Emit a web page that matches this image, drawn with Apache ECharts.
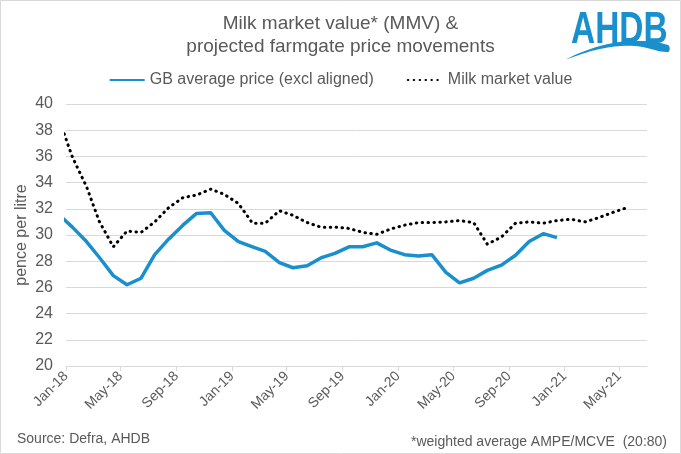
<!DOCTYPE html>
<html>
<head>
<meta charset="utf-8">
<script src="https://cdn.jsdelivr.net/npm/echarts@6/dist/echarts.min.js"></script>
<style>
html,body{margin:0;padding:0;background:#fff;}
#chart{width:681px;height:454px;}
</style>
</head>
<body>
<div id="chart"></div>
<script>
// Monthly observations (plotted mid-month), Dec-17 .. May-21
var months = ['2017-12','2018-01','2018-02','2018-03','2018-04','2018-05','2018-06','2018-07','2018-08','2018-09','2018-10','2018-11','2018-12',
'2019-01','2019-02','2019-03','2019-04','2019-05','2019-06','2019-07','2019-08','2019-09','2019-10','2019-11','2019-12',
'2020-01','2020-02','2020-03','2020-04','2020-05','2020-06','2020-07','2020-08','2020-09','2020-10','2020-11','2020-12',
'2021-01','2021-02','2021-03','2021-04','2021-05'];
var gbPrice = [31.6,30.6,29.5,28.3,26.9,26.2,26.7,28.5,29.7,30.75,31.65,31.7,30.35,
29.5,29.1,28.75,27.9,27.5,27.65,28.25,28.6,29.1,29.1,29.4,28.85,
28.5,28.4,28.5,27.15,26.35,26.7,27.3,27.7,28.45,29.5,30.1,29.8];
var mmv = [39.0,35.95,33.7,31.05,29.1,30.3,30.2,31.0,32.1,32.85,33.05,33.5,33.1,
32.4,30.9,30.9,31.85,31.5,30.95,30.6,30.6,30.5,30.2,30.05,30.45,
30.75,30.95,30.95,31.0,31.1,30.95,29.3,29.85,30.9,31.0,30.9,31.1,
31.2,31.0,31.3,31.7,32.05];
var tickLabels = ['Jan-18','May-18','Sep-18','Jan-19','May-19','Sep-19','Jan-20','May-20','Sep-20','Jan-21','May-21'];
var yTicks = [20,22,24,26,28,30,32,34,36,38,40];

var monNames = {Jan:0,Feb:1,Mar:2,Apr:3,May:4,Jun:5,Jul:6,Aug:7,Sep:8,Oct:9,Nov:10,Dec:11};
function labelToTime(l){var p=l.split('-');return Date.UTC(2000+parseInt(p[1],10),monNames[p[0]],1);}
function monthMid(m){var p=m.split('-');return Date.UTC(parseInt(p[0],10),parseInt(p[1],10)-1,15);}
var tickTimes = tickLabels.map(labelToTime);
var labelMap = {};
tickTimes.forEach(function(t,i){labelMap[t]=tickLabels[i];});

var gbData = gbPrice.map(function(v,i){return [monthMid(months[i]),v];});
var mmvData = mmv.map(function(v,i){return [monthMid(months[i]),v];});

var FONT = 'Liberation Sans, Arial, sans-serif';
var GREY = '#595959';
var BLUE = '#1a8fce';
var chart = echarts.init(document.getElementById('chart'),null,{renderer:'canvas'});
chart.setOption({
  backgroundColor:'#ffffff',
  animation:false,
  textStyle:{fontFamily:FONT},
  title:{
    text:'Milk market value* (MMV) &\nprojected farmgate price movements',
    left:'center', top:7,
    textStyle:{fontSize:19,fontWeight:'normal',color:GREY,fontFamily:FONT,lineHeight:23}
  },
  legend:{
    top:67, left:'center', itemGap:33, itemWidth:35, itemHeight:10,
    itemStyle:{opacity:0},
    textStyle:{fontSize:16,color:GREY,fontFamily:FONT},
    data:['GB average price (excl aligned)','Milk market value']
  },
  grid:{left:66,right:34,top:104,bottom:88},
  xAxis:{
    type:'value',
    min:labelToTime('Jan-18'),
    max:Date.UTC(2021,6,1),
    axisLine:{show:true,lineStyle:{color:'#d9d9d9',width:1}},
    axisTick:{show:true,length:5,lineStyle:{color:'#d9d9d9'},customValues:tickTimes},
    axisLabel:{
      customValues:tickTimes,
      rotate:45, fontSize:14, color:GREY, fontFamily:FONT, margin:8,
      formatter:function(v){return labelMap[v]||'';}
    },
    splitLine:{show:false}
  },
  yAxis:{
    type:'value', min:yTicks[0], max:yTicks[yTicks.length-1], interval:2,
    axisLine:{show:false}, axisTick:{show:false},
    axisLabel:{fontSize:16,color:GREY,fontFamily:FONT,margin:13},
    splitLine:{lineStyle:{color:'#d9d9d9',width:1}}
  },
  series:[
    {
      name:'GB average price (excl aligned)', type:'line', data:gbData,
      showSymbol:false, symbol:'none', smooth:false, clip:true,
      itemStyle:{color:BLUE},
      lineStyle:{color:BLUE,width:3.5,join:'round'}
    },
    {
      name:'Milk market value', type:'line', data:mmvData,
      showSymbol:false, symbol:'none', smooth:false, clip:true,
      itemStyle:{color:'#000000'},
      lineStyle:{color:'#000000',width:3,type:[0.5,5.4],cap:'round',join:'round'}
    }
  ],
  graphic:[
    {type:'rect',silent:true,shape:{x:0.5,y:0.5,width:680,height:453},style:{fill:'none',stroke:'#d9d9d9',lineWidth:1}},
    {type:'text',x:22,y:235,rotation:Math.PI/2,style:{text:'pence per litre',font:'16px '+FONT,fill:GREY,align:'center',verticalAlign:'middle'}},
    {type:'text',x:17,y:432,style:{text:'Source: Defra, AHDB',font:'14px '+FONT,fill:GREY}},
    {type:'text',x:667,y:435,style:{text:'*weighted average AMPE/MCVE  (20:80)',font:'14px '+FONT,fill:GREY,align:'right'}},
    {type:'text',x:571,y:31,scaleX:0.76,style:{text:'AHDB',font:'bold 44px '+FONT,fill:BLUE,verticalAlign:'middle'}},
    {type:'polygon',silent:true,shape:{smooth:0.4,points:[[567,59],[600,46],[635,41],[668,45],[668,52],[635,46],[600,49]]},style:{fill:BLUE}}
  ]
});
</script>
</body>
</html>
